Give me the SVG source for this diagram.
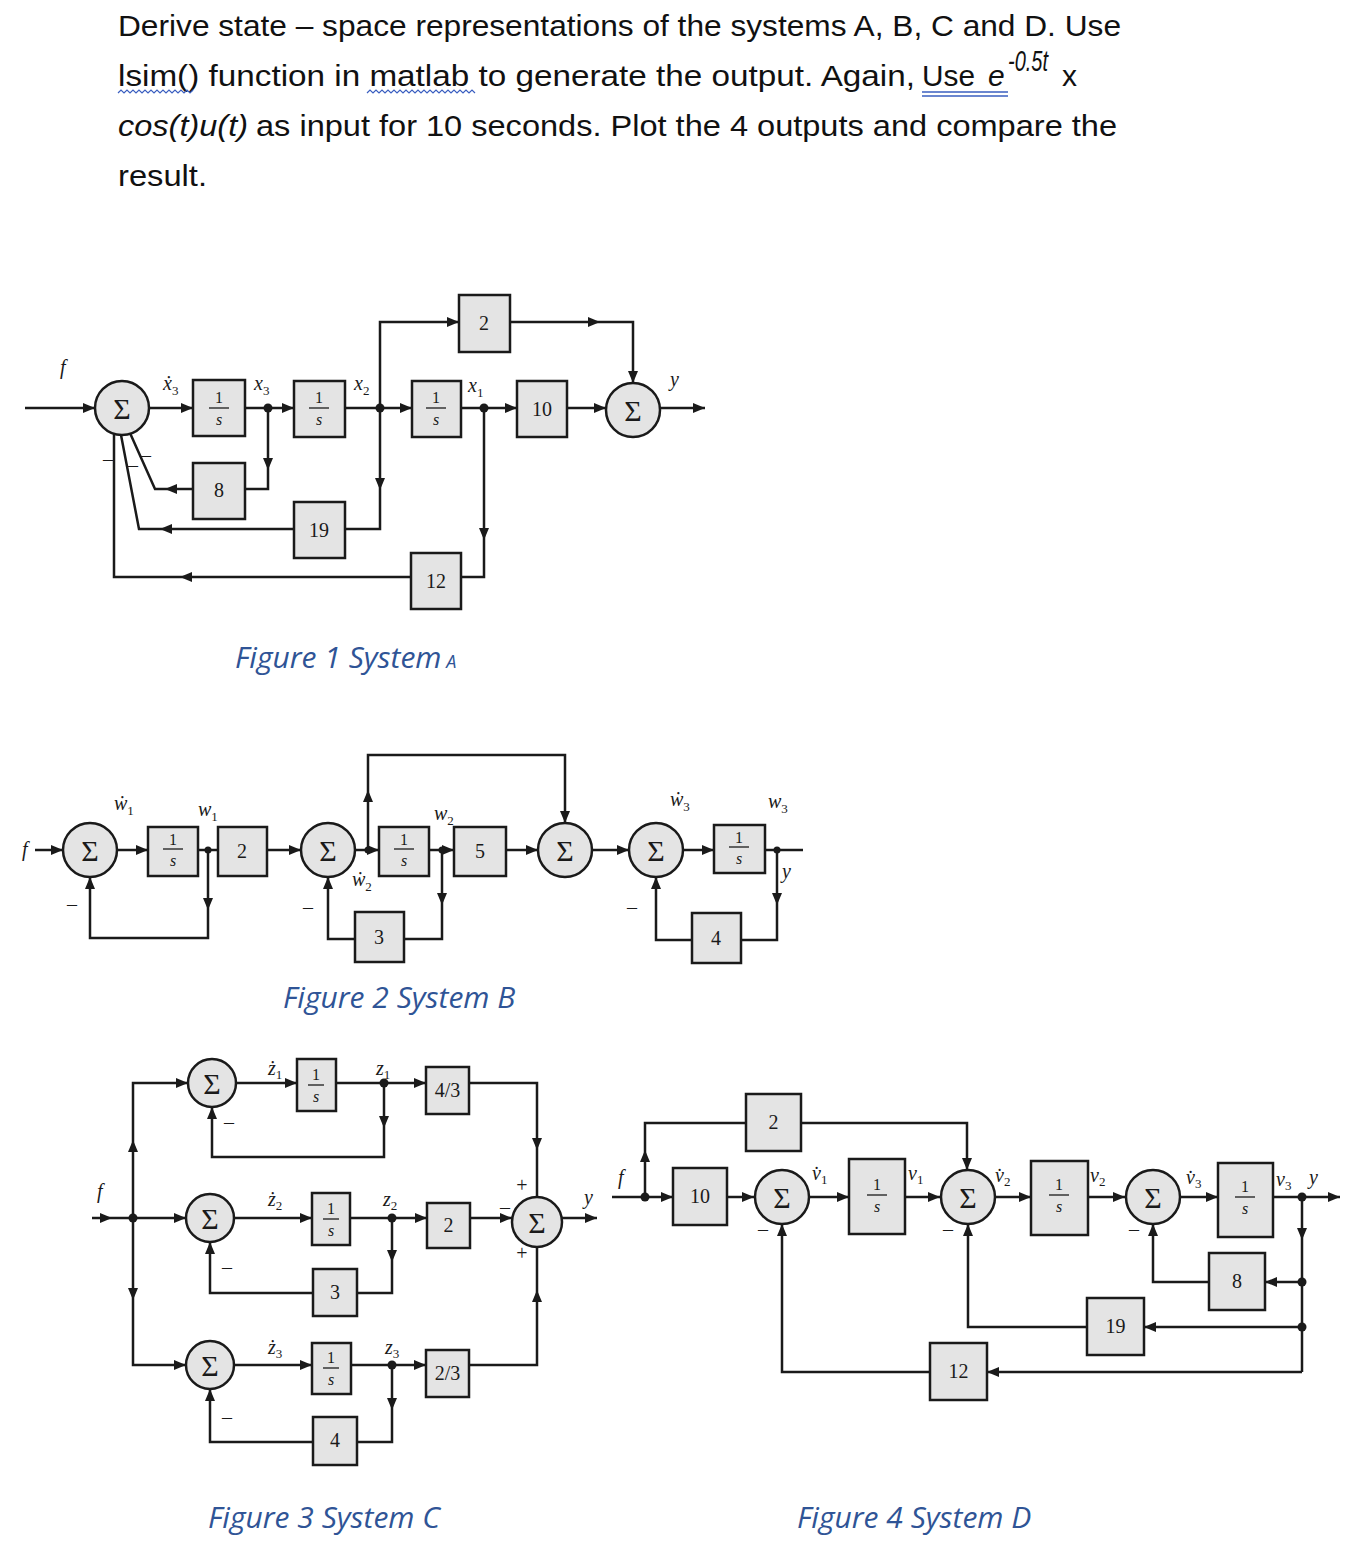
<svg xmlns="http://www.w3.org/2000/svg" width="1358" height="1548" viewBox="0 0 1358 1548">
<defs>
<marker id="a" viewBox="0 0 12 10" refX="12" refY="5" markerWidth="12" markerHeight="10" markerUnits="userSpaceOnUse" orient="auto"><path d="M0,0 L12,5 L0,10 Z" fill="#1a1a1a"/></marker>
</defs>
<style>
.hd{font-family:"Liberation Sans",Arial,sans-serif;font-size:30px;fill:#111}
.cap{font-family:"Open Sans","Liberation Sans",sans-serif;font-size:30px;font-style:italic;fill:#2f5496}
.b{fill:#e4e4e4;stroke:#1a1a1a;stroke-width:2.5}
.s{fill:#e4e4e4;stroke:#1a1a1a;stroke-width:2.5}
.w{fill:none;stroke:#1a1a1a;stroke-width:2.5}
.w path{marker-end:url(#a)}
.w path.n{marker-end:none}
.t{font-family:"Liberation Serif","Times New Roman",serif;font-size:20px;fill:#1a1a1a;text-anchor:middle}
.sg{font-family:"Liberation Serif","Times New Roman",serif;font-size:30px;fill:#1a1a1a;text-anchor:middle}
.fr{font-family:"Liberation Serif","Times New Roman",serif;font-size:16px;fill:#1a1a1a;text-anchor:middle}
.l{font-family:"Liberation Serif","Times New Roman",serif;font-size:20px;font-style:italic;fill:#1a1a1a}
.sub{font-size:13px;font-style:normal}
.d{fill:#1a1a1a}
</style>

<g id="header">
<text class="hd" x="118" y="36" textLength="1003" lengthAdjust="spacingAndGlyphs">Derive state – space representations of the systems A, B, C and D. Use</text>
<text class="hd" x="118" y="86" textLength="797" lengthAdjust="spacingAndGlyphs">lsim() function in matlab to generate the output. Again, </text>
<text class="hd" x="922" y="86" textLength="53" lengthAdjust="spacingAndGlyphs">Use</text>
<text class="hd" x="988" y="86" font-style="italic">e</text>
<text class="hd" x="1008" y="71" font-size="17" font-style="italic" textLength="40" lengthAdjust="spacingAndGlyphs">-0.5t</text>
<text class="hd" x="1062" y="86">x</text>
<path d="M118 93 l3 -3 l3 3 l3 -3 l3 3 l3 -3 l3 3 l3 -3 l3 3 l3 -3 l3 3 l3 -3 l3 3 l3 -3 l3 3 l3 -3 l3 3 l3 -3 l3 3 l3 -3 l3 3 l3 -3 l3 3 l3 -3 l3 3 l3 -3" fill="none" stroke="#3b5fc0" stroke-width="1.2"/>
<path d="M367 93 l3 -3 l3 3 l3 -3 l3 3 l3 -3 l3 3 l3 -3 l3 3 l3 -3 l3 3 l3 -3 l3 3 l3 -3 l3 3 l3 -3 l3 3 l3 -3 l3 3 l3 -3 l3 3 l3 -3 l3 3 l3 -3 l3 3 l3 -3 l3 3 l3 -3 l3 3 l3 -3 l3 3 l3 -3 l3 3 l3 -3 l3 3 l3 -3 l3 3" fill="none" stroke="#3b5fc0" stroke-width="1.2"/>
<path d="M922 92 H1008 M922 96 H1008" fill="none" stroke="#3b5fc0" stroke-width="1.5"/>
<text class="hd" x="118" y="136" font-style="italic" textLength="130" lengthAdjust="spacingAndGlyphs">cos(t)u(t)</text>
<text class="hd" x="256" y="136" textLength="861" lengthAdjust="spacingAndGlyphs">as input for 10 seconds. Plot the 4 outputs and compare the</text>
<text class="hd" x="118" y="186" textLength="89" lengthAdjust="spacingAndGlyphs">result.</text>
</g>

<g id="captions">
<text class="cap" x="235" y="668">Figure 1 System<tspan font-size="18"> A</tspan></text>
<text class="cap" x="283" y="1008">Figure 2 System B</text>
<text class="cap" x="208" y="1528">Figure 3 System C</text>
<text class="cap" x="797" y="1528">Figure 4 System D</text>
</g>

<!-- ================= FIGURE 1 ================= -->
<g id="fig1-connectors" class="w">
<path d="M25 408 H95"/>
<path d="M149 408 H193"/>
<path d="M245 408 H294"/>
<path d="M268 408 V470"/>
<path class="n" d="M268 470 V489 H245"/>
<path d="M193 489 H165"/>
<path class="n" d="M165 489 H155 L130 433"/>
<path d="M345 408 H412"/>
<path d="M380 408 V490"/>
<path class="n" d="M380 490 V529 H345"/>
<path d="M294 529 H160"/>
<path class="n" d="M160 529 H139 L121 435"/>
<path d="M380 408 V322 H459"/>
<path d="M510 322 H600"/>
<path d="M600 322 H633 V383"/>
<path d="M461 408 H517"/>
<path d="M484 408 V540"/>
<path class="n" d="M484 540 V577 H461"/>
<path d="M411 577 H180"/>
<path class="n" d="M180 577 H114 V431"/>
<path d="M567 408 H606"/>
<path d="M660 408 H705"/>
</g>
<g id="fig1-nodes">
<circle class="d" cx="268" cy="408" r="4.5"/><circle class="d" cx="380" cy="408" r="4.5"/><circle class="d" cx="484" cy="408" r="4.5"/>
<g id="A-sum1"><circle class="s" cx="122" cy="408" r="27"/><text class="sg" x="122" y="419">Σ</text></g>
<g id="A-int3"><rect class="b" x="193" y="380" width="52" height="56"/><text class="fr" x="219" y="403">1</text><path d="M209 408 H229" stroke="#1a1a1a" stroke-width="1.3"/><text class="fr" x="219" y="425" font-style="italic">s</text></g>
<g id="A-int2"><rect class="b" x="294" y="381" width="51" height="56"/><text class="fr" x="319" y="403">1</text><path d="M309 408 H329" stroke="#1a1a1a" stroke-width="1.3"/><text class="fr" x="319" y="425" font-style="italic">s</text></g>
<g id="A-int1"><rect class="b" x="412" y="381" width="49" height="56"/><text class="fr" x="436" y="403">1</text><path d="M426 408 H446" stroke="#1a1a1a" stroke-width="1.3"/><text class="fr" x="436" y="425" font-style="italic">s</text></g>
<g id="A-10"><rect class="b" x="517" y="381" width="50" height="56"/><text class="t" x="542" y="416">10</text></g>
<g id="A-2"><rect class="b" x="459" y="295" width="51" height="57"/><text class="t" x="484" y="330">2</text></g>
<g id="A-sum2"><circle class="s" cx="633" cy="410" r="27"/><text class="sg" x="633" y="421">Σ</text></g>
<g id="A-8"><rect class="b" x="193" y="463" width="52" height="56"/><text class="t" x="219" y="497">8</text></g>
<g id="A-19"><rect class="b" x="294" y="502" width="51" height="56"/><text class="t" x="319" y="537">19</text></g>
<g id="A-12"><rect class="b" x="411" y="553" width="50" height="56"/><text class="t" x="436" y="588">12</text></g>
</g>
<g id="fig1-labels">
<text class="l" x="60" y="374">f</text>
<text class="l" x="163" y="390">ẋ<tspan class="sub" dy="5">3</tspan></text>
<text class="l" x="254" y="390">x<tspan class="sub" dy="5">3</tspan></text>
<text class="l" x="354" y="390">x<tspan class="sub" dy="5">2</tspan></text>
<text class="l" x="468" y="392">x<tspan class="sub" dy="5">1</tspan></text>
<text class="l" x="670" y="386">y</text>
<text class="t" x="108" y="466" font-size="16">–</text>
<text class="t" x="133" y="472" font-size="16">–</text>
<text class="t" x="146" y="462" font-size="16">–</text>
</g>

<!-- ================= FIGURE 2 ================= -->
<g id="fig2-connectors" class="w">
<path d="M35 850 H63"/>
<path d="M117 850 H148"/>
<path class="n" d="M198 850 H218"/>
<path d="M208 850 V910"/>
<path d="M208 910 V938 H90 V877"/>
<path d="M267 850 H301"/>
<path d="M355 850 H379"/>
<path d="M368 850 V790"/>
<path d="M368 790 V755 H565 V823"/>
<path d="M429 850 H454"/>
<path d="M442 850 V905"/>
<path class="n" d="M442 905 V939 H404"/>
<path d="M355 939 H328 V877"/>
<path d="M506 850 H538"/>
<path d="M592 850 H629"/>
<path d="M683 850 H714"/>
<path class="n" d="M765 850 H803"/>
<path d="M777 850 V905"/>
<path class="n" d="M777 905 V940 H741"/>
<path d="M692 940 H656 V877"/>
</g>
<g id="fig2-nodes">
<circle class="d" cx="208" cy="850" r="3.5"/><circle class="d" cx="368" cy="850" r="3.5"/><circle class="d" cx="442" cy="850" r="3.5"/><circle class="d" cx="777" cy="850" r="3.5"/>
<g id="B-sum1"><circle class="s" cx="90" cy="850" r="27"/><text class="sg" x="90" y="861">Σ</text></g>
<g id="B-int1"><rect class="b" x="148" y="827" width="50" height="49"/><text class="fr" x="173" y="845">1</text><path d="M163 849 H183" stroke="#1a1a1a" stroke-width="1.3"/><text class="fr" x="173" y="866" font-style="italic">s</text></g>
<g id="B-2"><rect class="b" x="218" y="827" width="49" height="49"/><text class="t" x="242" y="858">2</text></g>
<g id="B-sum2"><circle class="s" cx="328" cy="850" r="27"/><text class="sg" x="328" y="861">Σ</text></g>
<g id="B-int2"><rect class="b" x="379" y="827" width="50" height="49"/><text class="fr" x="404" y="845">1</text><path d="M394 849 H414" stroke="#1a1a1a" stroke-width="1.3"/><text class="fr" x="404" y="866" font-style="italic">s</text></g>
<g id="B-5"><rect class="b" x="454" y="827" width="52" height="49"/><text class="t" x="480" y="858">5</text></g>
<g id="B-sum3"><circle class="s" cx="565" cy="850" r="27"/><text class="sg" x="565" y="861">Σ</text></g>
<g id="B-sum4"><circle class="s" cx="656" cy="850" r="27"/><text class="sg" x="656" y="861">Σ</text></g>
<g id="B-int3"><rect class="b" x="714" y="825" width="51" height="48"/><text class="fr" x="739" y="843">1</text><path d="M729 847 H749" stroke="#1a1a1a" stroke-width="1.3"/><text class="fr" x="739" y="864" font-style="italic">s</text></g>
<g id="B-3"><rect class="b" x="355" y="912" width="49" height="50"/><text class="t" x="379" y="944">3</text></g>
<g id="B-4"><rect class="b" x="692" y="913" width="49" height="50"/><text class="t" x="716" y="945">4</text></g>
</g>
<g id="fig2-labels">
<text class="l" x="22" y="856" font-size="16">f</text>
<text class="l" x="114" y="810">ẇ<tspan class="sub" dy="5">1</tspan></text>
<text class="l" x="198" y="816">w<tspan class="sub" dy="5">1</tspan></text>
<text class="l" x="352" y="886">ẇ<tspan class="sub" dy="5">2</tspan></text>
<text class="l" x="434" y="820">w<tspan class="sub" dy="5">2</tspan></text>
<text class="l" x="670" y="806">ẇ<tspan class="sub" dy="5">3</tspan></text>
<text class="l" x="768" y="808">w<tspan class="sub" dy="5">3</tspan></text>
<text class="l" x="782" y="878">y</text>
<text class="t" x="72" y="911" font-size="16">–</text>
<text class="t" x="308" y="914" font-size="16">–</text>
<text class="t" x="632" y="914" font-size="16">–</text>
</g>

<!-- ================= FIGURE 3 ================= -->
<g id="fig3-connectors" class="w">
<path d="M92 1218 H112"/>
<path d="M112 1218 H186"/>
<path d="M133 1218 V1140"/>
<path d="M133 1140 V1083 H188"/>
<path d="M133 1218 V1300"/>
<path d="M133 1300 V1365 H186"/>
<path d="M236 1083 H297"/>
<path class="n" d="M336 1083 H384"/>
<path d="M384 1083 H426"/>
<path d="M384 1083 V1128"/>
<path d="M384 1128 V1157 H212 V1107"/>
<path d="M469 1083 H537 V1150"/>
<path class="n" d="M537 1150 V1197"/>
<path d="M234 1218 H312"/>
<path d="M350 1218 H427"/>
<path d="M392 1218 V1262"/>
<path class="n" d="M392 1262 V1293 H357"/>
<path d="M313 1293 H210 V1242"/>
<path d="M470 1218 H512"/>
<path d="M562 1218 H597"/>
<path d="M234 1365 H312"/>
<path d="M351 1365 H426"/>
<path d="M392 1365 V1410"/>
<path class="n" d="M392 1410 V1442 H357"/>
<path d="M313 1442 H210 V1389"/>
<path d="M469 1365 H537 V1290"/>
<path class="n" d="M537 1290 V1247"/>
</g>
<g id="fig3-nodes">
<circle class="d" cx="133" cy="1218" r="4.5"/><circle class="d" cx="384" cy="1083" r="4.5"/><circle class="d" cx="392" cy="1218" r="4.5"/><circle class="d" cx="392" cy="1365" r="4.5"/>
<g id="C-sum1"><circle class="s" cx="212" cy="1083" r="24"/><text class="sg" x="212" y="1094" font-size="27">Σ</text></g>
<g id="C-int1"><rect class="b" x="297" y="1059" width="39" height="52"/><text class="fr" x="316" y="1080">1</text><path d="M308 1085 H324" stroke="#1a1a1a" stroke-width="1.3"/><text class="fr" x="316" y="1102" font-style="italic">s</text></g>
<g id="C-43"><rect class="b" x="426" y="1067" width="43" height="47"/><text class="t" x="447.5" y="1097" font-size="16">4/3</text></g>
<g id="C-sum2"><circle class="s" cx="210" cy="1218" r="24"/><text class="sg" x="210" y="1229" font-size="27">Σ</text></g>
<g id="C-int2"><rect class="b" x="312" y="1193" width="38" height="52"/><text class="fr" x="331" y="1214">1</text><path d="M323 1219 H339" stroke="#1a1a1a" stroke-width="1.3"/><text class="fr" x="331" y="1236" font-style="italic">s</text></g>
<g id="C-2"><rect class="b" x="427" y="1203" width="43" height="45"/><text class="t" x="448.5" y="1232" font-size="18">2</text></g>
<g id="C-3"><rect class="b" x="313" y="1269" width="44" height="47"/><text class="t" x="335" y="1299" font-size="18">3</text></g>
<g id="C-sum4"><circle class="s" cx="537" cy="1222" r="25"/><text class="sg" x="537" y="1233" font-size="27">Σ</text></g>
<g id="C-sum3"><circle class="s" cx="210" cy="1365" r="24"/><text class="sg" x="210" y="1376" font-size="27">Σ</text></g>
<g id="C-int3"><rect class="b" x="312" y="1343" width="39" height="51"/><text class="fr" x="331" y="1363">1</text><path d="M323 1368 H339" stroke="#1a1a1a" stroke-width="1.3"/><text class="fr" x="331" y="1385" font-style="italic">s</text></g>
<g id="C-23"><rect class="b" x="426" y="1350" width="43" height="47"/><text class="t" x="447.5" y="1380" font-size="16">2/3</text></g>
<g id="C-4"><rect class="b" x="313" y="1417" width="44" height="48"/><text class="t" x="335" y="1447" font-size="18">4</text></g>
</g>
<g id="fig3-labels">
<text class="l" x="97" y="1198" font-size="16">f</text>
<text class="l" x="268" y="1075" font-size="16">ż<tspan class="sub" dy="4">1</tspan></text>
<text class="l" x="376" y="1075" font-size="16">z<tspan class="sub" dy="4">1</tspan></text>
<text class="l" x="268" y="1206" font-size="16">ż<tspan class="sub" dy="4">2</tspan></text>
<text class="l" x="383" y="1206" font-size="16">z<tspan class="sub" dy="4">2</tspan></text>
<text class="l" x="268" y="1354" font-size="16">ż<tspan class="sub" dy="4">3</tspan></text>
<text class="l" x="385" y="1354" font-size="16">z<tspan class="sub" dy="4">3</tspan></text>
<text class="l" x="584" y="1204" font-size="16">y</text>
<text class="t" x="522" y="1192" font-size="14">+</text>
<text class="t" x="505" y="1214" font-size="14">–</text>
<text class="t" x="522" y="1260" font-size="14">+</text>
<text class="t" x="229" y="1129" font-size="14">–</text>
<text class="t" x="227" y="1274" font-size="14">–</text>
<text class="t" x="227" y="1424" font-size="14">–</text>
</g>

<!-- ================= FIGURE 4 ================= -->
<g id="fig4-connectors" class="w">
<path d="M612 1197 H673"/>
<path d="M645 1197 V1150"/>
<path class="n" d="M645 1150 V1123 H746"/>
<path d="M801 1123 H967 V1170"/>
<path d="M727 1197 H754"/>
<path d="M810 1197 H849"/>
<path d="M905 1197 H940"/>
<path d="M996 1197 H1031"/>
<path d="M1088 1197 H1125"/>
<path d="M1181 1197 H1218"/>
<path d="M1273 1197 H1340"/>
<path d="M1302 1197 V1240"/>
<path class="n" d="M1302 1240 V1372"/>
<path d="M1302 1282 H1265"/>
<path d="M1209 1282 H1153 V1224"/>
<path d="M1302 1327 H1144"/>
<path d="M1087 1327 H968 V1224"/>
<path d="M1302 1372 H987"/>
<path d="M930 1372 H782 V1224"/>
</g>
<g id="fig4-nodes">
<circle class="d" cx="645" cy="1197" r="4.5"/><circle class="d" cx="1302" cy="1197" r="4.5"/><circle class="d" cx="1302" cy="1282" r="4.5"/><circle class="d" cx="1302" cy="1327" r="4.5"/>
<g id="D-2"><rect class="b" x="746" y="1094" width="55" height="57"/><text class="t" x="773.5" y="1129">2</text></g>
<g id="D-10"><rect class="b" x="673" y="1168" width="54" height="57"/><text class="t" x="700" y="1203">10</text></g>
<g id="D-sum1"><circle class="s" cx="782" cy="1197" r="27"/><text class="sg" x="782" y="1208">Σ</text></g>
<g id="D-int1"><rect class="b" x="849" y="1159" width="56" height="75"/><text class="fr" x="877" y="1190">1</text><path d="M867 1195 H887" stroke="#1a1a1a" stroke-width="1.3"/><text class="fr" x="877" y="1212" font-style="italic">s</text></g>
<g id="D-sum2"><circle class="s" cx="968" cy="1197" r="27"/><text class="sg" x="968" y="1208">Σ</text></g>
<g id="D-int2"><rect class="b" x="1031" y="1161" width="57" height="74"/><text class="fr" x="1059" y="1190">1</text><path d="M1049 1195 H1069" stroke="#1a1a1a" stroke-width="1.3"/><text class="fr" x="1059" y="1212" font-style="italic">s</text></g>
<g id="D-sum3"><circle class="s" cx="1153" cy="1197" r="27"/><text class="sg" x="1153" y="1208">Σ</text></g>
<g id="D-int3"><rect class="b" x="1218" y="1163" width="55" height="74"/><text class="fr" x="1245" y="1192">1</text><path d="M1235 1197 H1255" stroke="#1a1a1a" stroke-width="1.3"/><text class="fr" x="1245" y="1214" font-style="italic">s</text></g>
<g id="D-8"><rect class="b" x="1209" y="1253" width="56" height="57"/><text class="t" x="1237" y="1288">8</text></g>
<g id="D-19"><rect class="b" x="1087" y="1298" width="57" height="57"/><text class="t" x="1115.5" y="1333">19</text></g>
<g id="D-12"><rect class="b" x="930" y="1343" width="57" height="57"/><text class="t" x="958.5" y="1378">12</text></g>
</g>
<g id="fig4-labels">
<text class="l" x="618" y="1184" font-size="17">f</text>
<text class="l" x="812" y="1180" font-size="17">v̇<tspan class="sub" dy="4">1</tspan></text>
<text class="l" x="908" y="1180" font-size="17">v<tspan class="sub" dy="4">1</tspan></text>
<text class="l" x="995" y="1182" font-size="17">v̇<tspan class="sub" dy="4">2</tspan></text>
<text class="l" x="1090" y="1182" font-size="17">v<tspan class="sub" dy="4">2</tspan></text>
<text class="l" x="1186" y="1184" font-size="17">v̇<tspan class="sub" dy="4">3</tspan></text>
<text class="l" x="1276" y="1186" font-size="17">v<tspan class="sub" dy="4">3</tspan></text>
<text class="l" x="1309" y="1184" font-size="17">y</text>
<text class="t" x="763" y="1236" font-size="14">–</text>
<text class="t" x="948" y="1236" font-size="14">–</text>
<text class="t" x="1134" y="1236" font-size="14">–</text>
</g>
</svg>
